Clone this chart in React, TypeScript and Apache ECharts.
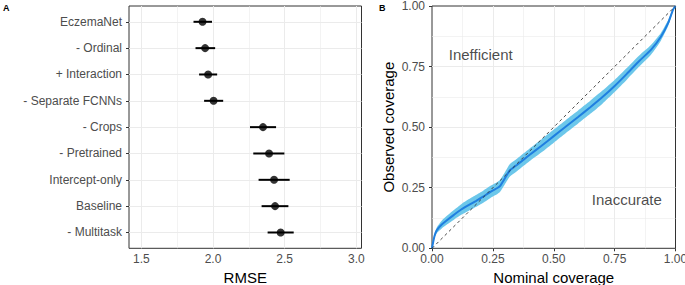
import React, { useEffect, useRef } from "react";
import * as echarts from "echarts";

// ---------- Panel A data ----------
const models = [
  "EczemaNet",
  "- Ordinal",
  "+ Interaction",
  "- Separate FCNNs",
  "- Crops",
  "- Pretrained",
  "Intercept-only",
  "Baseline",
  "- Multitask",
];
const rmse = [1.927, 1.945, 1.966, 2.004, 2.349, 2.391, 2.426, 2.433, 2.472];
const rmseLow = [1.864, 1.878, 1.903, 1.938, 2.258, 2.281, 2.318, 2.339, 2.381];
const rmseHigh = [1.993, 2.015, 2.029, 2.071, 2.44, 2.498, 2.535, 2.526, 2.563];
const rmseTicks = [1.5, 2.0, 2.5, 3.0];
const rmseMinorTicks = [1.75, 2.25, 2.75];

// ---------- Panel B data ----------
const nominal = [0, 0.01, 0.02, 0.04, 0.06, 0.09, 0.12, 0.15, 0.18, 0.21, 0.24, 0.27, 0.28, 0.3, 0.32, 0.35, 0.4, 0.45, 0.5, 0.55, 0.6, 0.65, 0.7, 0.75, 0.8, 0.85, 0.9, 0.94, 0.97, 0.99, 1];
const observed = [0, 0.05, 0.075, 0.098, 0.115, 0.138, 0.16, 0.178, 0.195, 0.213, 0.233, 0.25, 0.258, 0.29, 0.322, 0.345, 0.385, 0.423, 0.463, 0.503, 0.542, 0.582, 0.624, 0.67, 0.72, 0.772, 0.82, 0.873, 0.93, 0.985, 1];
const observedLow = [0, 0.042, 0.063, 0.082, 0.097, 0.118, 0.138, 0.154, 0.17, 0.188, 0.208, 0.225, 0.233, 0.265, 0.296, 0.319, 0.359, 0.396, 0.436, 0.476, 0.515, 0.555, 0.597, 0.645, 0.696, 0.749, 0.8, 0.857, 0.918, 0.979, 1];
const observedHigh = [0, 0.058, 0.087, 0.114, 0.133, 0.158, 0.182, 0.202, 0.22, 0.238, 0.258, 0.275, 0.283, 0.315, 0.348, 0.371, 0.411, 0.45, 0.49, 0.53, 0.569, 0.609, 0.651, 0.695, 0.744, 0.795, 0.84, 0.889, 0.942, 0.991, 1];
const diagonal = [
  [0, 0],
  [1, 1],
];
const annotations = [
  { x: 0.2, y: 0.8, text: "Inefficient" },
  { x: 0.8, y: 0.2, text: "Inaccurate" },
];

const FONT = "'Liberation Sans', Arial, Helvetica, sans-serif";
const GRID_MAJOR = "#ebebeb";
const TICK_COLOR = "#333333";
const LABEL_COLOR = "#4d4d4d";

export default function App() {
  const ref = useRef<HTMLDivElement>(null);

  useEffect(() => {
    if (!ref.current) return;
    const chart = echarts.init(ref.current, undefined, { renderer: "svg" });
    const idx = models.map((_, i) => i);

    const gridLineData: any[] = [
      ...rmseTicks.map((v) => ({ xAxis: v, lineStyle: { color: GRID_MAJOR, width: 1, type: "solid" } })),
      ...rmseMinorTicks.map((v) => ({ xAxis: v, lineStyle: { color: GRID_MAJOR, width: 0.6, type: "solid" } })),
      ...idx.map((i) => ({ yAxis: i, lineStyle: { color: GRID_MAJOR, width: 1, type: "solid" } })),
    ];

    const option: any = {
      animation: false,
      backgroundColor: "#ffffff",
      textStyle: { fontFamily: FONT },
      grid: [
        { left: 129, top: 6, width: 232.5, height: 242.3, outerBoundsMode: "none", containLabel: false, show: true, borderColor: "#333333", borderWidth: 1, backgroundColor: "#ffffff" },
        { left: 432, top: 6, width: 243.5, height: 242.3, outerBoundsMode: "none", containLabel: false, show: true, borderColor: "#333333", borderWidth: 1, backgroundColor: "#ffffff" },
      ],
      xAxis: [
        {
          gridIndex: 0,
          type: "value",
          min: 1.414,
          max: 3.036,
          axisLine: { show: false },
          splitLine: { show: false },
          axisTick: { show: true, length: 3, lineStyle: { color: TICK_COLOR }, customValues: rmseTicks },
          axisLabel: {
            customValues: rmseTicks,
            formatter: (v: number) => v.toFixed(1),
            color: LABEL_COLOR,
            fontSize: 12,
            fontFamily: FONT,
            margin: 5,
          },
          name: "RMSE",
          nameLocation: "middle",
          nameGap: 21,
          nameTextStyle: { fontSize: 15, color: "#000000", fontFamily: FONT },
        },
        {
          gridIndex: 1,
          type: "value",
          min: 0,
          max: 1,
          interval: 0.25,
          axisLine: { show: false },
          axisTick: { show: true, length: 3, lineStyle: { color: TICK_COLOR } },
          axisLabel: {
            formatter: (v: number) => v.toFixed(2),
            color: LABEL_COLOR,
            fontSize: 12,
            fontFamily: FONT,
            margin: 5,
            showMinLabel: true,
            showMaxLabel: true,
          },
          splitLine: { show: true, showMinLine: false, showMaxLine: false, lineStyle: { color: GRID_MAJOR, width: 1 } },
          minorTick: { show: false, splitNumber: 2 },
          minorSplitLine: { show: true, lineStyle: { color: GRID_MAJOR, width: 0.6 } },
          name: "Nominal coverage",
          nameLocation: "middle",
          nameGap: 21,
          nameTextStyle: { fontSize: 15, color: "#000000", fontFamily: FONT },
        },
      ],
      yAxis: [
        {
          gridIndex: 0,
          type: "value",
          inverse: true,
          min: -0.6,
          max: 8.6,
          axisLine: { show: false },
          splitLine: { show: false },
          axisTick: { show: true, length: 3, lineStyle: { color: TICK_COLOR }, customValues: idx },
          axisLabel: {
            customValues: idx,
            formatter: (v: number) => models[Math.round(v)] ?? "",
            color: LABEL_COLOR,
            fontSize: 12,
            fontFamily: FONT,
            margin: 7,
          },
        },
        {
          gridIndex: 1,
          type: "value",
          min: 0,
          max: 1,
          interval: 0.25,
          axisLine: { show: false },
          axisTick: { show: true, length: 3, lineStyle: { color: TICK_COLOR } },
          axisLabel: {
            formatter: (v: number) => v.toFixed(2),
            color: LABEL_COLOR,
            fontSize: 12,
            fontFamily: FONT,
            margin: 7,
          },
          splitLine: { show: true, showMinLine: false, showMaxLine: false, lineStyle: { color: GRID_MAJOR, width: 1 } },
          minorTick: { show: false, splitNumber: 2 },
          minorSplitLine: { show: true, lineStyle: { color: GRID_MAJOR, width: 0.6 } },
          name: "Observed coverage",
          nameLocation: "middle",
          nameRotate: 90,
          nameGap: 36,
          nameTextStyle: { fontSize: 15, color: "#000000", fontFamily: FONT },
        },
      ],
      series: [
        // Panel A gridlines
        {
          type: "scatter",
          xAxisIndex: 0,
          yAxisIndex: 0,
          data: [],
          silent: true,
          z: 1,
          markLine: {
            silent: true,
            symbol: "none",
            z: 1,
            label: { show: false },
            emphasis: { disabled: true },
            data: gridLineData,
          },
        },
        // Panel A error bars
        {
          type: "custom",
          xAxisIndex: 0,
          yAxisIndex: 0,
          z: 3,
          silent: true,
          data: idx.map((i) => [rmseLow[i], rmseHigh[i], i]),
          encode: { x: [0, 1], y: 2 },
          renderItem: (_params: any, api: any) => {
            const a = api.coord([api.value(0), api.value(2)]);
            const b = api.coord([api.value(1), api.value(2)]);
            return {
              type: "line",
              shape: { x1: a[0], y1: a[1], x2: b[0], y2: b[1] },
              style: { stroke: "#000000", lineWidth: 2 },
            };
          },
        },
        // Panel A points
        {
          type: "scatter",
          xAxisIndex: 0,
          yAxisIndex: 0,
          z: 4,
          silent: true,
          symbolSize: 8,
          itemStyle: { color: "#000000" },
          data: idx.map((i) => [rmse[i], i]),
        },
        // Panel B ribbon as one polygon
        {
          type: "custom",
          xAxisIndex: 1,
          yAxisIndex: 1,
          z: 2,
          silent: true,
          data: nominal.map((x, i) => [x, observedLow[i], observedHigh[i]]),
          encode: { x: 0, y: [1, 2] },
          renderItem: (params: any, api: any) => {
            if (params.dataIndex !== 0) return null;
            const upper = nominal.map((x, i) => api.coord([x, observedHigh[i]]));
            const lower = nominal.map((x, i) => api.coord([x, observedLow[i]])).reverse();
            return {
              type: "polygon",
              shape: { points: upper.concat(lower), smooth: 0.2 },
              style: { fill: "#6cc7ea", stroke: "none" },
            };
          },
        },
        // Panel B main line
        {
          type: "line",
          xAxisIndex: 1,
          yAxisIndex: 1,
          symbol: "none",
          silent: true,
          z: 3,
          smooth: 0.2,
          lineStyle: { color: "#1f7fe0", width: 2 },
          data: nominal.map((x, i) => [x, observed[i]]),
        },
        // Diagonal
        {
          type: "line",
          xAxisIndex: 1,
          yAxisIndex: 1,
          symbol: "none",
          silent: true,
          z: 4,
          lineStyle: { color: "#333333", width: 0.9, type: [3, 3] },
          data: diagonal,
        },
        // Annotations
        {
          type: "scatter",
          xAxisIndex: 1,
          yAxisIndex: 1,
          silent: true,
          z: 5,
          symbolSize: 1,
          itemStyle: { color: "rgba(0,0,0,0)" },
          label: {
            show: true,
            position: "inside",
            formatter: (p: any) => p.data[2],
            fontSize: 15,
            color: "#1a1a1a",
            fontFamily: FONT,
          },
          data: annotations.map((a) => [a.x, a.y, a.text]),
        },
      ],
      graphic: [
        { type: "text", left: 3, top: 3, style: { text: "A", fontSize: 9, fontWeight: "bold", fill: "#000", fontFamily: FONT } },
        { type: "text", left: 379, top: 3, style: { text: "B", fontSize: 9, fontWeight: "bold", fill: "#000", fontFamily: FONT } },
      ],
    };

    chart.setOption(option);
    return () => chart.dispose();
  }, []);

  return (
    <div
      ref={ref}
      style={{ position: "fixed", left: 0, top: 0, width: 685, height: 285, background: "#fff" }}
    />
  );
}
